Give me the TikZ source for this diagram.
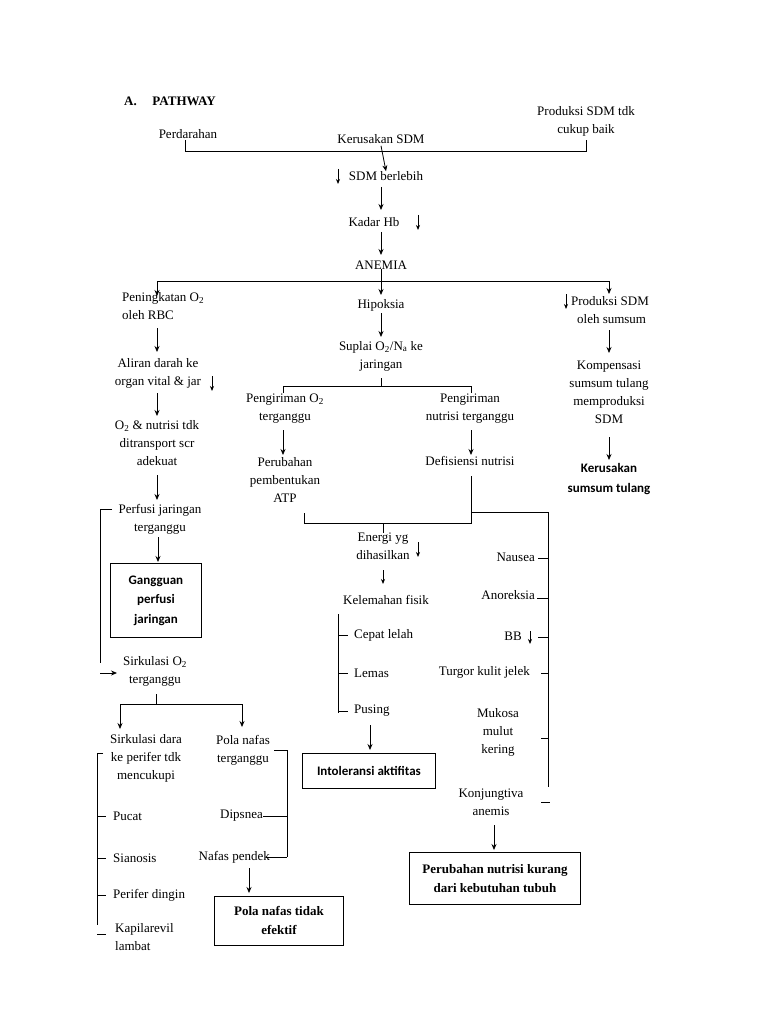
\documentclass[tikz,border=0pt]{standalone}
\usepackage{fontspec}
\setmainfont{Liberation Serif}
\newfontfamily\carlfont{Carlito}
\usetikzlibrary{arrows.meta}
\begin{document}
\begin{tikzpicture}[x=1pt,y=-1pt,
  txt/.style={font=\fontsize{13}{18}\selectfont,inner sep=0pt,align=center},
  ltxt/.style={font=\fontsize{13}{18}\selectfont,inner sep=0pt,align=left},
  rtxt/.style={font=\fontsize{13}{18}\selectfont,inner sep=0pt,align=right},
  cbox/.style={draw,line width=0.9pt,minimum width=#1,inner sep=3pt,align=center},
  ln/.style={line width=0.8pt},
  ar/.style={line width=0.8pt,-{Stealth[length=6pt,width=5pt]}},
  sar/.style={line width=0.8pt,-{Stealth[length=5pt,width=4pt]}}]
\useasboundingbox (0,0) rectangle (768,1024);
\fill[white] (0,0) rectangle (768,1024);
\node[ltxt,font=\fontsize{13}{16}\selectfont\bfseries,anchor=west] (title) at (124,101) {A.\hspace{1.2em}PATHWAY};
% top
\node[txt] (perd) at (188,134) {Perdarahan};
\node[txt] (ker) at (381,139) {Kerusakan SDM};
\node[txt] (prod) at (586,121) {Produksi SDM tdk\\cukup baik};
\coordinate (pl) at (185,151); \coordinate (pr) at (586,151);
\draw[ln] (185,140) -- (pl) -- (pr) -- (586,140);
\node[txt] (sdm) at (386,176) {SDM berlebih};
\draw[sar] (338,169) -- (338,184);
\draw[ar] (ker.south) ++(0,2) -- (sdm.north);
\node[txt] (hb) at (374,222) {Kadar Hb};
\draw[sar] (418,215) -- (418,230);
\draw[ar] (381,187) -- (381,210);
\node[txt] (anem) at (381,265) {ANEMIA};
\draw[ar] (381,232) -- (381,255);
\draw[ln] (157,281) -- (609,281);
\draw[ar] (157,281) -- (157,296);
\draw[ar] (609,281) -- (609,294);
\draw[ar] (anem.south) -- (381,295);
% row 2
\node[ltxt,anchor=north west] (pen) at (122,292) {Peningkatan O\textsubscript{2}\\oleh RBC};
\node[txt] (hip) at (381,305) {Hipoksia};
\node[txt] (pso) at (610,310) {Produksi SDM\\\ oleh sumsum};
\draw[sar] (566,294) -- (566,309);
% left col
\draw[ar] (157,328) -- (157,352);
\node[txt] (alir) at (158,373) {Aliran darah ke\\organ vital \& jar};
\draw[sar] (212,376) -- (212,391);
\draw[ar] (157,393) -- (157,416);
\node[txt] (o2n) at (157,443) {O\textsubscript{2} \& nutrisi tdk\\ditransport scr\\adekuat};
\draw[ar] (157,475) -- (157,500);
\node[txt] (perf) at (160,519) {Perfusi jaringan\\terganggu};
\draw[ar] (158,537) -- (158,562);
\node[cbox=91pt,minimum height=74pt,font=\carlfont\fontsize{13}{19.5}\selectfont\bfseries,anchor=north west] (gpj) at (110,563) {Gangguan\\perfusi\\jaringan};
\draw[ln] (112,509) -- (100,509) -- (100,663);
\node[txt] (sirk) at (155,671) {Sirkulasi O\textsubscript{2}\\terganggu};
\draw[ar] (100,673) -- (117,673);
\draw[ln] (156,694) -- (156,704);
\draw[ln] (120,704) -- (242,704);
\draw[ar] (120,704) -- (120,729);
\draw[ar] (242,704) -- (242,727);
\node[txt] (sdp) at (146,758) {Sirkulasi dara\\ke perifer tdk\\mencukupi};
\node[txt] (pn) at (243,750) {Pola nafas\\terganggu};
\draw[ln] (103,753) -- (97,753) -- (97,925);
\node[ltxt,anchor=west] (puc) at (113,816) {Pucat};
\node[ltxt,anchor=west] (sia) at (113,858) {Sianosis};
\node[ltxt,anchor=west] (pd) at (113,895) {Perifer dingin};
\node[ltxt,anchor=west] (kap) at (115,937) {Kapilarevil\\lambat};
\foreach \yy in {816,858,895,934} \draw[ln] (97,\yy) -- (106,\yy);
\draw[ln] (274,750) -- (287,750) -- (287,857);
\node[rtxt,anchor=east] (dip) at (263,816) {Dipsnea};
\node[rtxt,anchor=east] (nfp) at (270,857) {Nafas pendek};
\draw[ln] (dip.east) -- (287,816);
\draw[ln] (266,857) -- (287,857);
\draw[ar] (249,868) -- (249,893);
\node[cbox=129pt,minimum height=49pt,font=\fontsize{13}{19}\selectfont\bfseries,anchor=north west] (pnt) at (214,896) {Pola nafas tidak\\efektif};
% middle
\draw[ar] (381,313) -- (381,337);
\node[txt] (sup) at (381,356) {Suplai O\textsubscript{2}/N\textsubscript{a} ke\\jaringan};
\draw[ln] (381,378) -- (381,386);
\draw[ln] (283,393) -- (283,386) -- (471,386) -- (471,393);
\node[txt] (po2) at (285,409) {Pengiriman O\textsubscript{2}\\terganggu};
\node[txt] (pnut) at (470,409) {Pengiriman\\nutrisi terganggu};
\draw[ar] (283,430) -- (283,455);
\draw[ar] (471,430) -- (471,455);
\node[txt] (atp) at (285,480) {Perubahan\\pembentukan\\ATP};
\node[txt] (def) at (470,461) {Defisiensi nutrisi};
\draw[ln] (304,513) -- (304,523) -- (471,523) -- (471,476);
\draw[ln] (383,523) -- (383,533);
\node[txt] (eng) at (383,546) {Energi yg\\dihasilkan};
\draw[sar] (418,542) -- (418,557);
\draw[sar] (383,570) -- (383,584);
\node[txt] (kel) at (386,600) {Kelemahan fisik};
\draw[ln] (338,614) -- (338,713);
\node[ltxt,anchor=west] (cep) at (354,635) {Cepat lelah};
\node[ltxt,anchor=west] (lem) at (354,673) {Lemas};
\node[ltxt,anchor=west] (pus) at (354,711) {Pusing};
\foreach \yy in {635,673,711} \draw[ln] (338,\yy) -- (348,\yy);
\draw[ar] (370,725) -- (370,750);
\node[cbox=133pt,minimum height=35pt,font=\carlfont\fontsize{13}{16}\selectfont\bfseries,anchor=north west] (int) at (302,753) {Intoleransi aktifitas};
% right nutrition
\draw[ln] (471,512) -- (548,512) -- (548,787);
\node[rtxt,anchor=east] (nau) at (535,557) {Nausea};
\node[rtxt,anchor=east] (ano) at (535,595) {Anoreksia};
\node[rtxt,anchor=east] (bb) at (522,636) {BB};
\draw[sar] (530,631) -- (530,644);
\node[rtxt,anchor=east] (tur) at (530,672) {Turgor kulit jelek};
\node[txt] (muk) at (498,732) {Mukosa\\mulut\\kering};
\node[txt] (kon) at (491,802) {Konjungtiva\\anemis};
\draw[ln] (538,558) -- (548,558);
\draw[ln] (537,598) -- (548,598);
\draw[ln] (538,637) -- (548,637);
\draw[ln] (541,673) -- (548,673);
\draw[ln] (541,738) -- (548,738);
\draw[ln] (541,802) -- (550,802);
\draw[ar] (494,825) -- (494,850);
\node[cbox=171pt,minimum height=52pt,font=\fontsize{13}{19}\selectfont\bfseries,anchor=north west] (pnk) at (409,852) {Perubahan nutrisi kurang\\dari kebutuhan tubuh};
% right column
\draw[ar] (609,330) -- (609,353);
\node[txt] (komp) at (609,392) {Kompensasi\\sumsum tulang\\memproduksi\\SDM};
\draw[ar] (609,437) -- (609,460);
\node[txt,font=\carlfont\fontsize{13}{20}\selectfont\bfseries] (kst) at (609,479) {Kerusakan\\sumsum tulang};
\end{tikzpicture}
\end{document}
